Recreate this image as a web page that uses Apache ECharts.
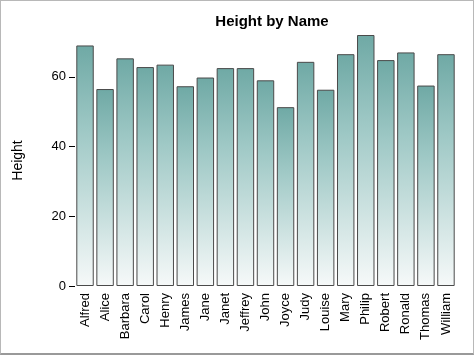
<!DOCTYPE html>
<html><head><meta charset="utf-8">
<script src="https://cdn.jsdelivr.net/npm/echarts@6/dist/echarts.min.js"></script>
<style>
html,body{margin:0;padding:0;background:#fff;}
#c{width:474px;height:355px;box-sizing:border-box;border:1px solid #b8b8b8;border-bottom:2px solid #999;}
</style></head>
<body><div id="c"></div>
<script>
const names = ["Alfred","Alice","Barbara","Carol","Henry","James","Jane","Janet","Jeffrey","John","Joyce","Judy","Louise","Mary","Philip","Robert","Ronald","Thomas","William"];
const heights = [69,56.5,65.3,62.8,63.5,57.3,59.8,62.5,62.5,59,51.3,64.3,56.3,66.5,72,64.8,67,57.5,66.5];
const yTicks = [0,20,40,60];

const chart = echarts.init(document.getElementById('c'));
const fontFam = '"Liberation Sans", Arial, sans-serif';
chart.setOption({
  animation:false,
  title:{text:'Height by Name', left:266, top:8, textAlign:'center',
    textStyle:{fontFamily:fontFam, fontSize:15, fontWeight:'bold', color:'#000'}},
  grid:{left:74, right:17, top:34, bottom:67, containLabel:false},
  xAxis:{type:'category', data:names,
    axisLine:{show:false}, axisTick:{show:false},
    axisLabel:{rotate:90, interval:0, fontFamily:fontFam, fontSize:13, color:'#000', margin:7}},
  yAxis:{type:'value', min:0, max:72,
    name:'Height', nameLocation:'middle', nameGap:50, nameRotate:90,
    nameTextStyle:{fontFamily:fontFam, fontSize:14, color:'#000'},
    splitLine:{show:false}, axisLine:{show:false},
    axisTick:{show:true, length:6, customValues:yTicks, lineStyle:{color:'#000'}},
    axisLabel:{fontFamily:fontFam, fontSize:13, color:'#000', margin:9, customValues:yTicks}},
  series:[{type:'bar', data:heights, barCategoryGap:'13%',
    itemStyle:{borderColor:'#4a4a4a', borderWidth:1,
      color:new echarts.graphic.LinearGradient(0,0,0,1,[
        {offset:0,color:'#6fa9a5'},{offset:0.35,color:'#9ec8c5'},{offset:1,color:'#f6f9f9'}])}}]
});
</script></body></html>
